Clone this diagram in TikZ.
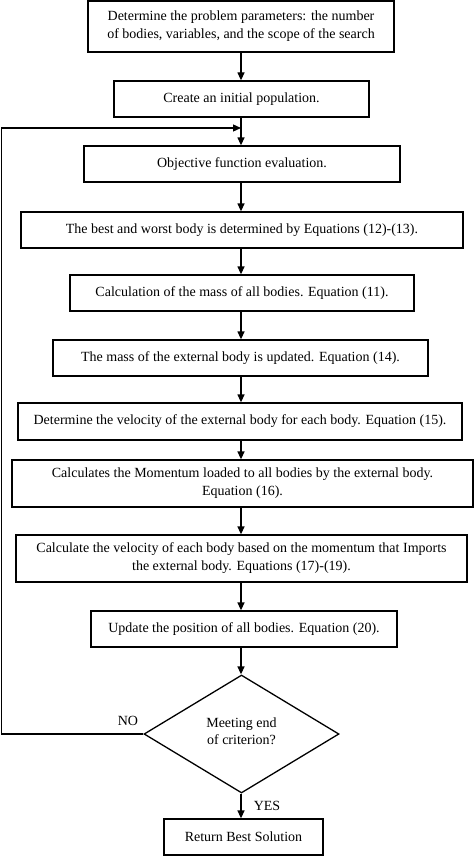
\documentclass[tikz,border=0pt]{standalone}
\usepackage{fontspec}
\setmainfont{Liberation Serif}
\usetikzlibrary{shapes.geometric,arrows.meta}
\begin{document}
\begin{tikzpicture}[x=1pt,y=-1pt,
  box/.style={draw,line width=1.3pt,rectangle,inner sep=0pt,align=center,
    font=\fontsize{14}{18}\selectfont},
  dia/.style={draw,line width=1.3pt,diamond,inner sep=0pt,align=center,
    font=\fontsize{14}{18}\selectfont,minimum width=195pt,minimum height=118pt},
  lbl/.style={font=\fontsize{14}{18}\selectfont,inner sep=0pt},
  arr/.style={-{Triangle[length=8pt,width=7pt]},line width=1.3pt},
  ln/.style={line width=1.3pt}]
\useasboundingbox (0,0) rectangle (474,856);
\coordinate (ax) at (241,0);
\node[box,minimum width=306pt,minimum height=51pt] (b1) at (241,26.5)
  {Determine the problem parameters: the number\\of bodies, variables, and the scope of the search};
\node[box,minimum width=255pt,minimum height=36pt] (b2) at (241.5,99) {Create an initial population.};
\node[box,minimum width=316pt,minimum height=36pt] (b3) at (242,164) {Objective function evaluation.};
\node[box,minimum width=442pt,minimum height=36pt] (b4) at (242,230) {The best and worst body is determined by Equations (12)-(13).};
\node[box,minimum width=344pt,minimum height=36pt] (b5) at (242,293) {Calculation of the mass of all bodies. Equation (11).};
\node[box,minimum width=375pt,minimum height=36pt] (b6) at (240.5,358) {The mass of the external body is updated. Equation (14).};
\node[box,minimum width=444pt,minimum height=37pt] (b7) at (240,421.5) {Determine the velocity of the external body for each body. Equation (15).};
\node[box,minimum width=461pt,minimum height=47pt] (b8) at (242.5,483.5)
  {Calculates the Momentum loaded to all bodies by the external body.\\Equation (16).};
\node[box,minimum width=451pt,minimum height=47pt] (b9) at (241.5,558.5)
  {Calculate the velocity of each body based on the momentum that Imports\\the external body. Equations (17)-(19).};
\node[box,minimum width=306pt,minimum height=36pt] (b10) at (244,629) {Update the position of all bodies. Equation (20).};
\node[dia] (d) at (241.5,734) {\raisebox{18pt}{\begin{tabular}{@{}c@{}}Meeting end\\[-1pt]of criterion?\end{tabular}}};
\node[box,minimum width=159pt,minimum height=36pt] (b11) at (243.5,837) {Return Best Solution};
\node[lbl] (no) at (128,721) {NO};
\node[lbl] (yes) at (267,806) {YES};
\coordinate (lc) at (1.5,128);
\draw[arr] (b1.south -| ax) -- (b2.north -| ax);
\draw[arr] (b2.south -| ax) -- (b3.north -| ax);
\draw[arr] (b3.south -| ax) -- (b4.north -| ax);
\draw[arr] (b4.south -| ax) -- (b5.north -| ax);
\draw[arr] (b5.south -| ax) -- (b6.north -| ax);
\draw[arr] (b6.south -| ax) -- (b7.north -| ax);
\draw[arr] (b7.south -| ax) -- (b8.north -| ax);
\draw[arr] (b8.south -| ax) -- (b9.north -| ax);
\draw[arr] (b9.south -| ax) -- (b10.north -| ax);
\draw[arr] (b10.south -| ax) -- (d.north -| ax);
\draw[arr] (d.south -| ax) -- (b11.north -| ax);
\draw[arr] (d.west) -- (d.west -| lc) -- (lc) -- (lc -| ax);
\end{tikzpicture}
\end{document}
